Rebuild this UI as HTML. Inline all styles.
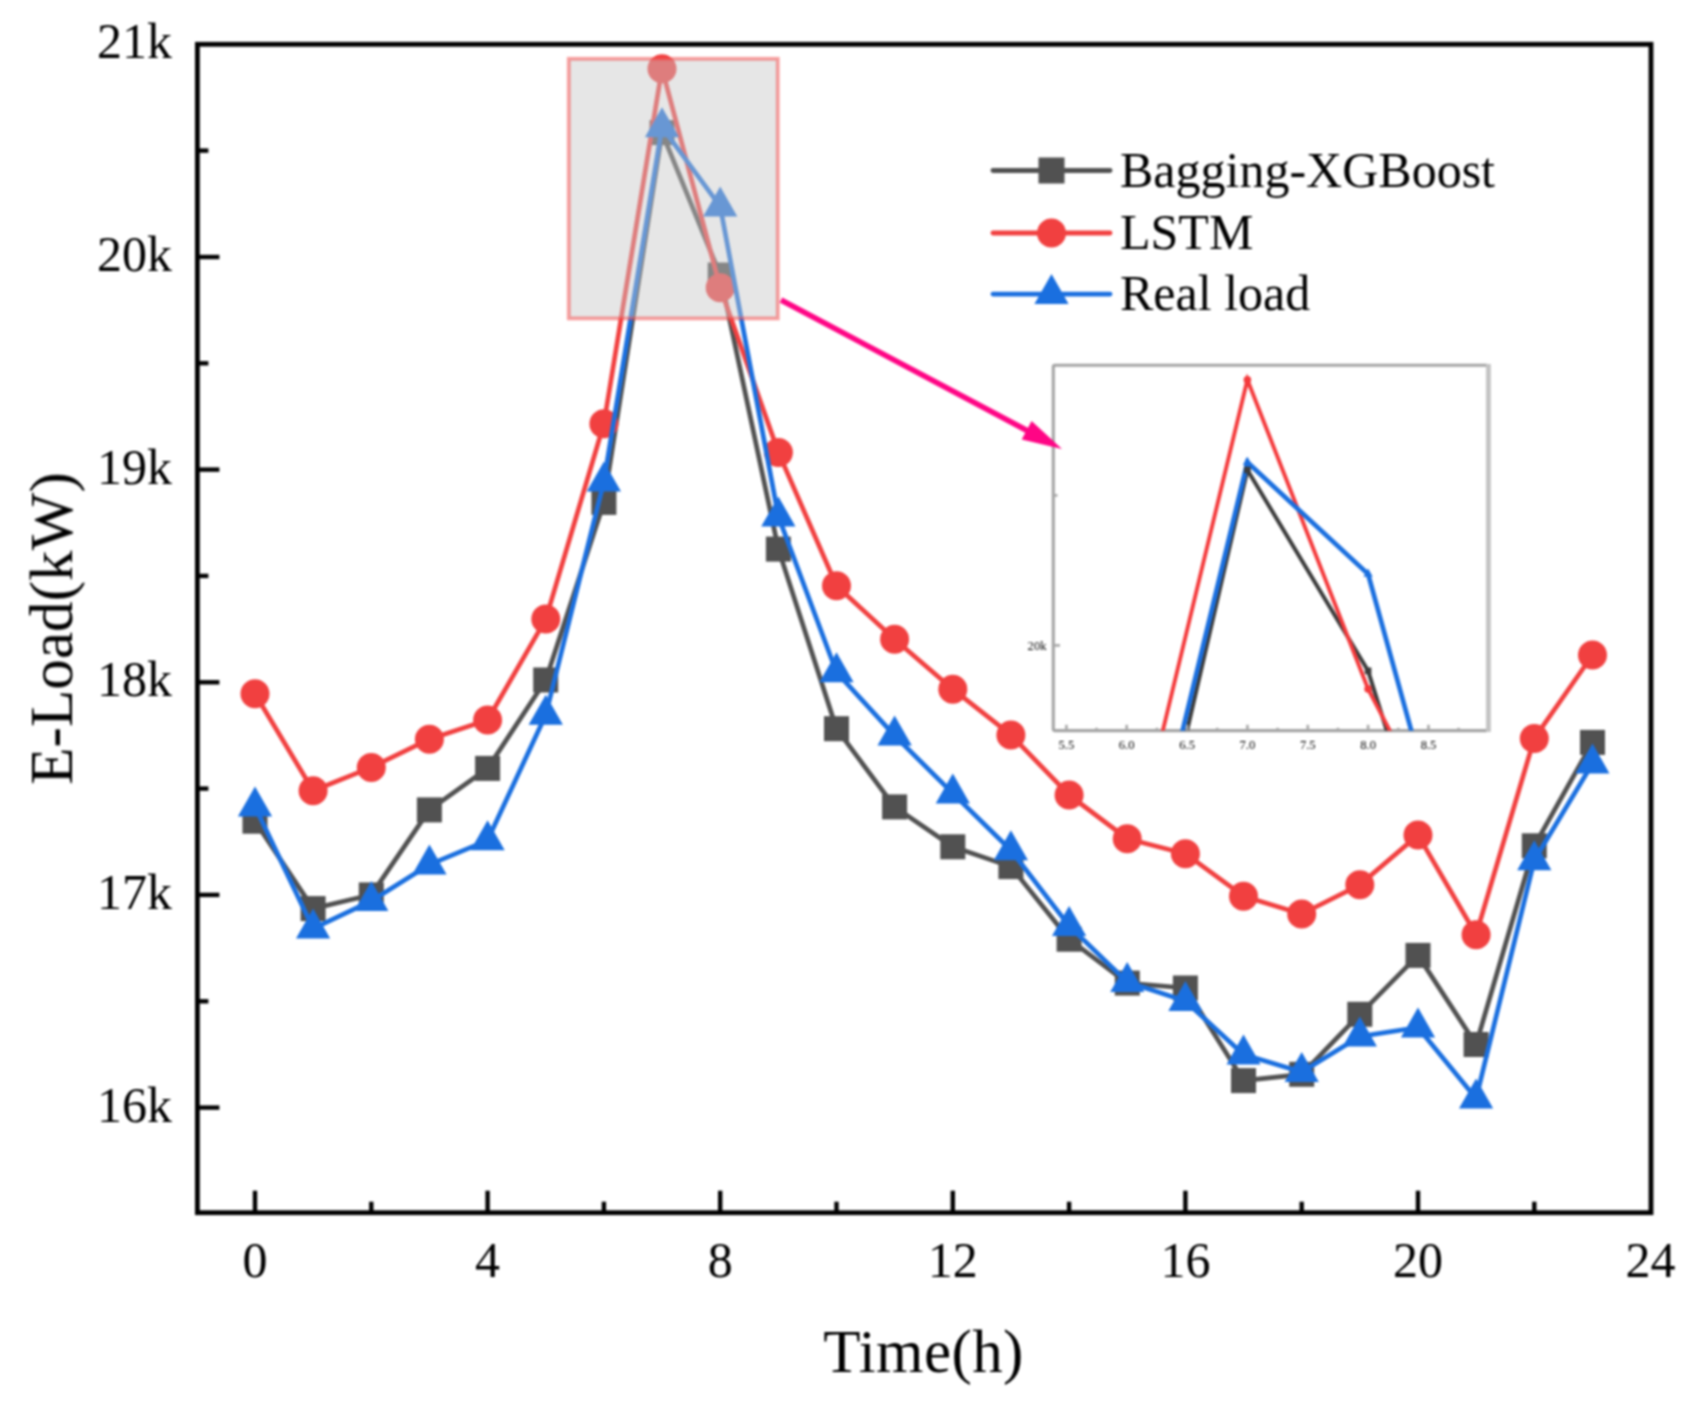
<!DOCTYPE html>
<html lang="en"><head><meta charset="utf-8"><title>E-Load forecast comparison</title>
<style>html,body{margin:0;padding:0;background:#fff}body{width:1695px;height:1401px;overflow:hidden}svg{display:block}text{font-family:"Liberation Serif",serif;fill:#000}</style>
</head><body>
<svg width="1695" height="1401" viewBox="0 0 1695 1401">
<defs><filter id="soft" x="-2%" y="-2%" width="104%" height="104%" color-interpolation-filters="sRGB"><feGaussianBlur stdDeviation="0.8"/></filter>
<clipPath id="insetclip"><rect x="1054" y="364.4" width="433.9" height="366.4"/></clipPath></defs>
<rect width="1695" height="1401" fill="#fff"/>
<g filter="url(#soft)">
<g id="series-bagging"><polyline points="255.0,821.2 313.1,908.6 371.3,894.9 429.4,809.9 487.6,768.4 545.8,680.0 603.9,502.4 662.0,132.6 720.2,275.0 778.4,549.1 836.5,728.7 894.6,806.9 952.8,846.8 1010.9,866.6 1069.1,939.2 1127.2,983.1 1185.4,988.0 1243.5,1080.6 1301.7,1074.3 1359.8,1014.3 1418.0,955.4 1476.1,1044.5 1534.3,845.8 1592.5,742.4" fill="none" stroke="#515151" stroke-width="4.7" stroke-linejoin="round"/><rect x="242.5" y="808.7" width="25" height="25" fill="#515151"/><rect x="300.6" y="896.1" width="25" height="25" fill="#515151"/><rect x="358.8" y="882.4" width="25" height="25" fill="#515151"/><rect x="416.9" y="797.4" width="25" height="25" fill="#515151"/><rect x="475.1" y="755.9" width="25" height="25" fill="#515151"/><rect x="533.2" y="667.5" width="25" height="25" fill="#515151"/><rect x="591.4" y="489.9" width="25" height="25" fill="#515151"/><rect x="649.5" y="120.1" width="25" height="25" fill="#515151"/><rect x="707.7" y="262.5" width="25" height="25" fill="#515151"/><rect x="765.9" y="536.6" width="25" height="25" fill="#515151"/><rect x="824.0" y="716.2" width="25" height="25" fill="#515151"/><rect x="882.1" y="794.4" width="25" height="25" fill="#515151"/><rect x="940.3" y="834.3" width="25" height="25" fill="#515151"/><rect x="998.4" y="854.1" width="25" height="25" fill="#515151"/><rect x="1056.6" y="926.7" width="25" height="25" fill="#515151"/><rect x="1114.8" y="970.6" width="25" height="25" fill="#515151"/><rect x="1172.9" y="975.5" width="25" height="25" fill="#515151"/><rect x="1231.0" y="1068.1" width="25" height="25" fill="#515151"/><rect x="1289.2" y="1061.8" width="25" height="25" fill="#515151"/><rect x="1347.3" y="1001.8" width="25" height="25" fill="#515151"/><rect x="1405.5" y="942.9" width="25" height="25" fill="#515151"/><rect x="1463.6" y="1032.0" width="25" height="25" fill="#515151"/><rect x="1521.8" y="833.3" width="25" height="25" fill="#515151"/><rect x="1580.0" y="729.9" width="25" height="25" fill="#515151"/></g>
<g id="series-lstm"><polyline points="255.0,693.7 313.1,790.7 371.3,767.4 429.4,739.2 487.6,720.0 545.8,619.1 603.9,423.7 662.0,68.7 720.2,287.8 778.4,452.4 836.5,585.7 894.6,639.2 952.8,689.2 1010.9,734.9 1069.1,795.0 1127.2,838.7 1185.4,853.7 1243.5,896.2 1301.7,914.0 1359.8,884.8 1418.0,835.1 1476.1,934.7 1534.3,738.4 1592.5,655.0" fill="none" stroke="#F14040" stroke-width="4.7" stroke-linejoin="round"/><circle cx="255.0" cy="693.7" r="14.5" fill="#F14040"/><circle cx="313.1" cy="790.7" r="14.5" fill="#F14040"/><circle cx="371.3" cy="767.4" r="14.5" fill="#F14040"/><circle cx="429.4" cy="739.2" r="14.5" fill="#F14040"/><circle cx="487.6" cy="720.0" r="14.5" fill="#F14040"/><circle cx="545.8" cy="619.1" r="14.5" fill="#F14040"/><circle cx="603.9" cy="423.7" r="14.5" fill="#F14040"/><circle cx="662.0" cy="68.7" r="14.5" fill="#F14040"/><circle cx="720.2" cy="287.8" r="14.5" fill="#F14040"/><circle cx="778.4" cy="452.4" r="14.5" fill="#F14040"/><circle cx="836.5" cy="585.7" r="14.5" fill="#F14040"/><circle cx="894.6" cy="639.2" r="14.5" fill="#F14040"/><circle cx="952.8" cy="689.2" r="14.5" fill="#F14040"/><circle cx="1010.9" cy="734.9" r="14.5" fill="#F14040"/><circle cx="1069.1" cy="795.0" r="14.5" fill="#F14040"/><circle cx="1127.2" cy="838.7" r="14.5" fill="#F14040"/><circle cx="1185.4" cy="853.7" r="14.5" fill="#F14040"/><circle cx="1243.5" cy="896.2" r="14.5" fill="#F14040"/><circle cx="1301.7" cy="914.0" r="14.5" fill="#F14040"/><circle cx="1359.8" cy="884.8" r="14.5" fill="#F14040"/><circle cx="1418.0" cy="835.1" r="14.5" fill="#F14040"/><circle cx="1476.1" cy="934.7" r="14.5" fill="#F14040"/><circle cx="1534.3" cy="738.4" r="14.5" fill="#F14040"/><circle cx="1592.5" cy="655.0" r="14.5" fill="#F14040"/></g>
<g id="series-real"><polyline points="255.0,806.5 313.1,928.6 371.3,900.9 429.4,864.6 487.6,840.3 545.8,714.7 603.9,481.5 662.0,127.2 720.2,206.4 778.4,516.5 836.5,672.2 894.6,735.6 952.8,793.4 1010.9,850.3 1069.1,925.9 1127.2,982.1 1185.4,1000.9 1243.5,1054.6 1301.7,1072.1 1359.8,1036.4 1418.0,1027.5 1476.1,1098.5 1534.3,860.2 1592.5,763.5" fill="none" stroke="#1A6FDF" stroke-width="4.7" stroke-linejoin="round"/><polygon points="255.0,786.5 272.1,816.5 237.9,816.5" fill="#1A6FDF"/><polygon points="313.1,908.6 330.2,938.6 296.0,938.6" fill="#1A6FDF"/><polygon points="371.3,880.9 388.4,910.9 354.2,910.9" fill="#1A6FDF"/><polygon points="429.4,844.6 446.6,874.6 412.3,874.6" fill="#1A6FDF"/><polygon points="487.6,820.3 504.7,850.3 470.5,850.3" fill="#1A6FDF"/><polygon points="545.8,694.7 562.9,724.7 528.6,724.7" fill="#1A6FDF"/><polygon points="603.9,461.5 621.0,491.5 586.8,491.5" fill="#1A6FDF"/><polygon points="662.0,107.2 679.1,137.2 644.9,137.2" fill="#1A6FDF"/><polygon points="720.2,186.4 737.3,216.4 703.1,216.4" fill="#1A6FDF"/><polygon points="778.4,496.5 795.5,526.5 761.2,526.5" fill="#1A6FDF"/><polygon points="836.5,652.2 853.6,682.2 819.4,682.2" fill="#1A6FDF"/><polygon points="894.6,715.6 911.8,745.6 877.5,745.6" fill="#1A6FDF"/><polygon points="952.8,773.4 969.9,803.4 935.7,803.4" fill="#1A6FDF"/><polygon points="1010.9,830.3 1028.0,860.3 993.8,860.3" fill="#1A6FDF"/><polygon points="1069.1,905.9 1086.2,935.9 1052.0,935.9" fill="#1A6FDF"/><polygon points="1127.2,962.1 1144.3,992.1 1110.2,992.1" fill="#1A6FDF"/><polygon points="1185.4,980.9 1202.5,1010.9 1168.3,1010.9" fill="#1A6FDF"/><polygon points="1243.5,1034.6 1260.6,1064.6 1226.5,1064.6" fill="#1A6FDF"/><polygon points="1301.7,1052.1 1318.8,1082.1 1284.6,1082.1" fill="#1A6FDF"/><polygon points="1359.8,1016.4 1376.9,1046.4 1342.8,1046.4" fill="#1A6FDF"/><polygon points="1418.0,1007.5 1435.1,1037.5 1400.9,1037.5" fill="#1A6FDF"/><polygon points="1476.1,1078.5 1493.2,1108.5 1459.0,1108.5" fill="#1A6FDF"/><polygon points="1534.3,840.2 1551.4,870.2 1517.2,870.2" fill="#1A6FDF"/><polygon points="1592.5,743.5 1609.5,773.5 1575.4,773.5" fill="#1A6FDF"/></g>
<rect x="568.8" y="58.8" width="209.0" height="259.6" fill="rgba(200,200,200,0.45)" stroke="rgba(243,70,70,0.5)" stroke-width="3.8"/>
<rect x="197.4" y="44.3" width="1453.6" height="1168.4" fill="none" stroke="#000" stroke-width="4.8"/>
<line x1="197.4" y1="1107.6" x2="219.4" y2="1107.6" stroke="#000" stroke-width="4.4"/>
<line x1="197.4" y1="894.9" x2="219.4" y2="894.9" stroke="#000" stroke-width="4.4"/>
<line x1="197.4" y1="682.3" x2="219.4" y2="682.3" stroke="#000" stroke-width="4.4"/>
<line x1="197.4" y1="469.6" x2="219.4" y2="469.6" stroke="#000" stroke-width="4.4"/>
<line x1="197.4" y1="257.0" x2="219.4" y2="257.0" stroke="#000" stroke-width="4.4"/>
<line x1="197.4" y1="1001.3" x2="208.4" y2="1001.3" stroke="#000" stroke-width="4.4"/>
<line x1="197.4" y1="788.6" x2="208.4" y2="788.6" stroke="#000" stroke-width="4.4"/>
<line x1="197.4" y1="575.9" x2="208.4" y2="575.9" stroke="#000" stroke-width="4.4"/>
<line x1="197.4" y1="363.3" x2="208.4" y2="363.3" stroke="#000" stroke-width="4.4"/>
<line x1="197.4" y1="150.6" x2="208.4" y2="150.6" stroke="#000" stroke-width="4.4"/>
<line x1="255.0" y1="1212.7" x2="255.0" y2="1190.7" stroke="#000" stroke-width="4.4"/>
<line x1="371.3" y1="1212.7" x2="371.3" y2="1201.7" stroke="#000" stroke-width="4.4"/>
<line x1="487.6" y1="1212.7" x2="487.6" y2="1190.7" stroke="#000" stroke-width="4.4"/>
<line x1="603.9" y1="1212.7" x2="603.9" y2="1201.7" stroke="#000" stroke-width="4.4"/>
<line x1="720.2" y1="1212.7" x2="720.2" y2="1190.7" stroke="#000" stroke-width="4.4"/>
<line x1="836.5" y1="1212.7" x2="836.5" y2="1201.7" stroke="#000" stroke-width="4.4"/>
<line x1="952.8" y1="1212.7" x2="952.8" y2="1190.7" stroke="#000" stroke-width="4.4"/>
<line x1="1069.1" y1="1212.7" x2="1069.1" y2="1201.7" stroke="#000" stroke-width="4.4"/>
<line x1="1185.4" y1="1212.7" x2="1185.4" y2="1190.7" stroke="#000" stroke-width="4.4"/>
<line x1="1301.7" y1="1212.7" x2="1301.7" y2="1201.7" stroke="#000" stroke-width="4.4"/>
<line x1="1418.0" y1="1212.7" x2="1418.0" y2="1190.7" stroke="#000" stroke-width="4.4"/>
<line x1="1534.3" y1="1212.7" x2="1534.3" y2="1201.7" stroke="#000" stroke-width="4.4"/>
<text x="172" y="1121.6" font-size="50" text-anchor="end">16k</text>
<text x="172" y="908.9" font-size="50" text-anchor="end">17k</text>
<text x="172" y="696.3" font-size="50" text-anchor="end">18k</text>
<text x="172" y="483.6" font-size="50" text-anchor="end">19k</text>
<text x="172" y="271.0" font-size="50" text-anchor="end">20k</text>
<text x="172" y="58.3" font-size="50" text-anchor="end">21k</text>
<text x="255.0" y="1277" font-size="50" text-anchor="middle">0</text>
<text x="487.6" y="1277" font-size="50" text-anchor="middle">4</text>
<text x="720.2" y="1277" font-size="50" text-anchor="middle">8</text>
<text x="952.8" y="1277" font-size="50" text-anchor="middle">12</text>
<text x="1185.4" y="1277" font-size="50" text-anchor="middle">16</text>
<text x="1418.0" y="1277" font-size="50" text-anchor="middle">20</text>
<text x="1650.6" y="1277" font-size="50" text-anchor="middle">24</text>
<text x="923.5" y="1372" font-size="61" letter-spacing="0.4" text-anchor="middle">Time(h)</text>
<text transform="translate(72,628.5) rotate(-90)" font-size="61" letter-spacing="0.1" text-anchor="middle">E-Load(kW)</text>
<line x1="993" y1="170.5" x2="1110" y2="170.5" stroke="#515151" stroke-width="4.9" stroke-linecap="round"/>
<rect x="1038.5" y="157.5" width="26" height="26" fill="#515151"/>
<text x="1120" y="186.8" font-size="50">Bagging-XGBoost</text>
<line x1="993" y1="233" x2="1110" y2="233" stroke="#F14040" stroke-width="4.9" stroke-linecap="round"/>
<circle cx="1051.5" cy="233.0" r="14.5" fill="#F14040"/>
<text x="1120" y="249.3" font-size="50">LSTM</text>
<line x1="993" y1="294.1" x2="1110" y2="294.1" stroke="#1A6FDF" stroke-width="4.9" stroke-linecap="round"/>
<polygon points="1051.5,274.1 1068.6,304.1 1034.4,304.1" fill="#1A6FDF"/>
<text x="1120" y="310.4" font-size="50">Real load</text>
<rect x="1053.3" y="365.2" width="434.7" height="365.4" rx="1.5" fill="#fff" stroke="#a4a4a4" stroke-width="3.1"/>
<line x1="1488.5" y1="364" x2="1488.5" y2="732" stroke="#c4c4c4" stroke-width="4.8"/>
<g clip-path="url(#insetclip)">
<polyline points="1006.0,1242.2 1126.7,991.6 1247.4,470.0 1368.1,670.8 1488.8,1057.5 1609.5,1310.9" fill="none" stroke="#3c3c3c" stroke-width="4.0" stroke-linejoin="miter"/>
<polyline points="1006.0,1156.3 1126.7,880.6 1247.4,379.8 1368.1,688.9 1488.8,921.1 1609.5,1109.2" fill="none" stroke="#F43A3C" stroke-width="3.9" stroke-linejoin="miter"/>
<polyline points="1006.0,1291.1 1126.7,962.2 1247.4,462.3 1368.1,574.1 1488.8,1011.5 1609.5,1231.2" fill="none" stroke="#1A6FDF" stroke-width="4.7" stroke-linejoin="miter"/>
<rect x="1244.1" y="466.7" width="6.6" height="6.6" fill="#3c3c3c"/>
<circle cx="1247.4" cy="379.8" r="3.8" fill="#F43A3C"/>
<polygon points="1247.4,456.8 1252.0,464.9 1242.8,464.9" fill="#1A6FDF"/>
<rect x="1364.8" y="667.5" width="6.6" height="6.6" fill="#3c3c3c"/>
<circle cx="1368.1" cy="688.9" r="3.8" fill="#F43A3C"/>
<polygon points="1368.1,568.6 1372.7,576.7 1363.5,576.7" fill="#1A6FDF"/>
</g>
<line x1="1066.4" y1="730.8" x2="1066.4" y2="724.8" stroke="#a8a8a8" stroke-width="2.6"/>
<text x="1066.4" y="748.6" font-size="12.6" text-anchor="middle" fill="#5a5a5a">5.5</text>
<line x1="1096.5" y1="730.8" x2="1096.5" y2="727.8" stroke="#a8a8a8" stroke-width="2.6"/>
<line x1="1126.7" y1="730.8" x2="1126.7" y2="724.8" stroke="#a8a8a8" stroke-width="2.6"/>
<text x="1126.7" y="748.6" font-size="12.6" text-anchor="middle" fill="#5a5a5a">6.0</text>
<line x1="1156.9" y1="730.8" x2="1156.9" y2="727.8" stroke="#a8a8a8" stroke-width="2.6"/>
<line x1="1187.1" y1="730.8" x2="1187.1" y2="724.8" stroke="#a8a8a8" stroke-width="2.6"/>
<text x="1187.1" y="748.6" font-size="12.6" text-anchor="middle" fill="#5a5a5a">6.5</text>
<line x1="1217.2" y1="730.8" x2="1217.2" y2="727.8" stroke="#a8a8a8" stroke-width="2.6"/>
<line x1="1247.4" y1="730.8" x2="1247.4" y2="724.8" stroke="#a8a8a8" stroke-width="2.6"/>
<text x="1247.4" y="748.6" font-size="12.6" text-anchor="middle" fill="#5a5a5a">7.0</text>
<line x1="1277.6" y1="730.8" x2="1277.6" y2="727.8" stroke="#a8a8a8" stroke-width="2.6"/>
<line x1="1307.8" y1="730.8" x2="1307.8" y2="724.8" stroke="#a8a8a8" stroke-width="2.6"/>
<text x="1307.8" y="748.6" font-size="12.6" text-anchor="middle" fill="#5a5a5a">7.5</text>
<line x1="1337.9" y1="730.8" x2="1337.9" y2="727.8" stroke="#a8a8a8" stroke-width="2.6"/>
<line x1="1368.1" y1="730.8" x2="1368.1" y2="724.8" stroke="#a8a8a8" stroke-width="2.6"/>
<text x="1368.1" y="748.6" font-size="12.6" text-anchor="middle" fill="#5a5a5a">8.0</text>
<line x1="1398.3" y1="730.8" x2="1398.3" y2="727.8" stroke="#a8a8a8" stroke-width="2.6"/>
<line x1="1428.5" y1="730.8" x2="1428.5" y2="724.8" stroke="#a8a8a8" stroke-width="2.6"/>
<text x="1428.5" y="748.6" font-size="12.6" text-anchor="middle" fill="#5a5a5a">8.5</text>
<line x1="1458.6" y1="730.8" x2="1458.6" y2="727.8" stroke="#a8a8a8" stroke-width="2.6"/>
<line x1="1054" y1="645.4" x2="1060" y2="645.4" stroke="#a8a8a8" stroke-width="2.6"/>
<line x1="1054" y1="495.4" x2="1057.5" y2="495.4" stroke="#a8a8a8" stroke-width="2.6"/>
<text x="1046.5" y="650" font-size="12.6" text-anchor="end" fill="#5a5a5a">20k</text>
<line x1="781" y1="300" x2="1028.4" y2="431.2" stroke="#FF0585" stroke-width="5.6"/>
<polygon points="1062,449 1021.7,439.5 1031.6,421.0" fill="#FF0585"/>
</g></svg>
</body></html>
